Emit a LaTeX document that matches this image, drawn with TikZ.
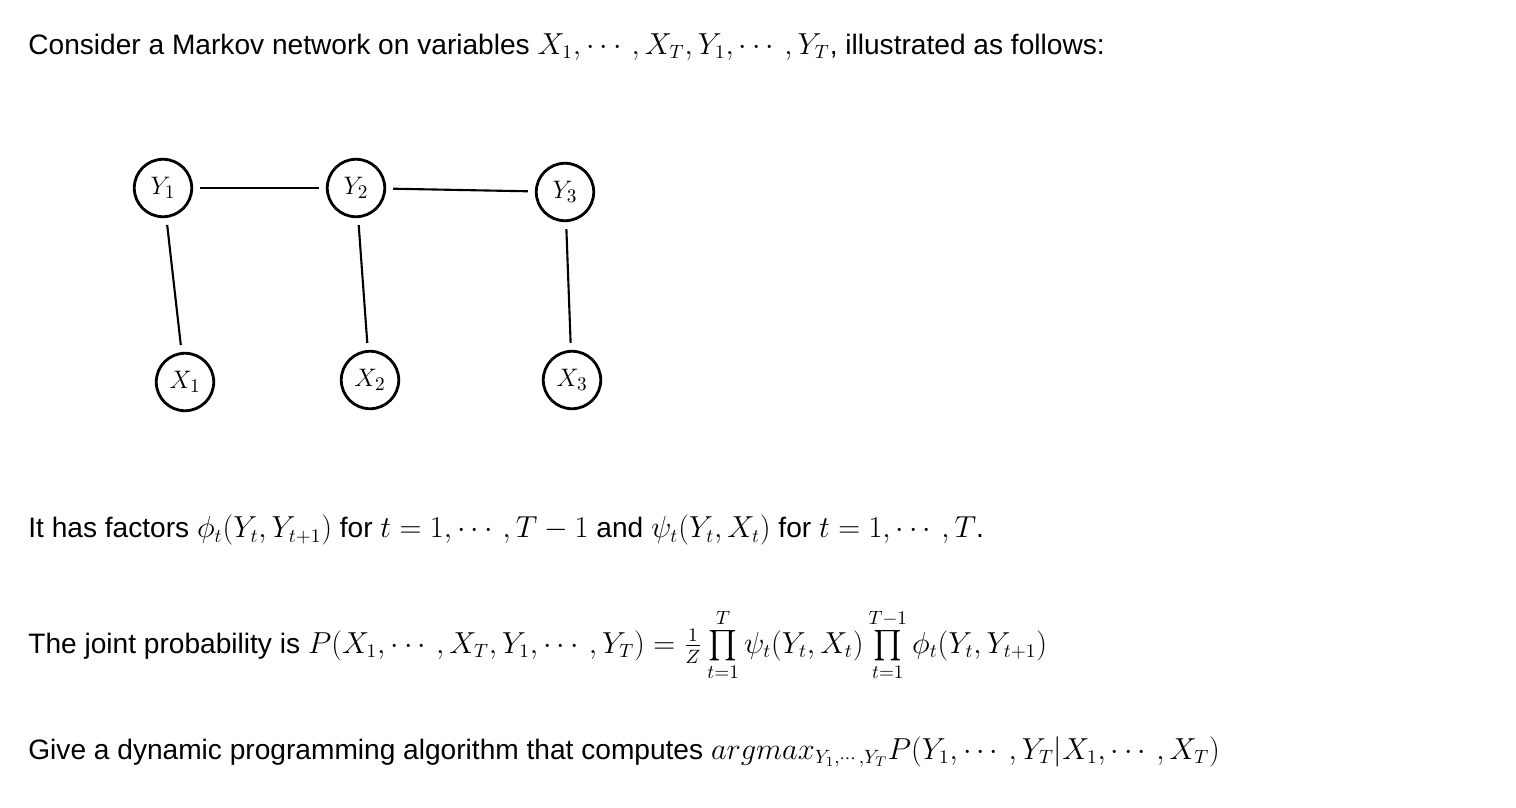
\documentclass[tikz,border=0pt]{standalone}
\usepackage{amsmath}
\usepackage{fontspec}
\setmainfont{Liberation Sans}
\begin{document}
\begin{tikzpicture}[x=0.02cm,y=-0.02cm,
  var/.style={circle,draw,line width=1.6pt,minimum size=1.15cm,inner sep=0pt,font=\fontsize{15}{17}\selectfont},
  edge/.style={line width=1.2pt,shorten >=4pt,shorten <=4pt},
  txt/.style={anchor=west,inner sep=0pt,font=\fontsize{16}{19}\selectfont}]
\useasboundingbox (0,0) rectangle (1516,808);
% graph
\node[var] (y1) at (163,188) {$Y_1$};
\node[var] (y2) at (356,188) {$Y_2$};
\node[var] (y3) at (565,192) {$Y_3$};
\node[var] (x1) at (185,382) {$X_1$};
\node[var] (x2) at (370,380) {$X_2$};
\node[var] (x3) at (572,380) {$X_3$};
\draw[edge] (y1) -- (y2);
\draw[edge] (y2) -- (y3);
\draw[edge] (y1) -- (x1);
\draw[edge] (y2) -- (x2);
\draw[edge] (y3) -- (x3);
% text
\node[txt] (l1) at (28,47) {Consider a Markov network on variables $X_1, \cdots, X_T, Y_1, \cdots, Y_T$, illustrated as follows:};
\node[txt] (l2) at (28,530) {It has factors $\phi_t(Y_t, Y_{t+1})$ for $t = 1, \cdots, T-1$ and $\psi_t(Y_t, X_t)$ for $t = 1, \cdots, T$.};
\node[txt] (l3) at (28,645) {The joint probability is $P(X_1, \cdots, X_T, Y_1, \cdots, Y_T) = \frac{1}{Z}\prod\limits_{t=1}^{T} \psi_t(Y_t, X_t) \prod\limits_{t=1}^{T-1} \phi_t(Y_t, Y_{t+1})$};
\node[txt] (l4) at (28,752) {Give a dynamic programming algorithm that computes $argmax_{Y_1,\cdots,Y_T} P(Y_1, \cdots, Y_T | X_1, \cdots, X_T)$};
\end{tikzpicture}
\end{document}
